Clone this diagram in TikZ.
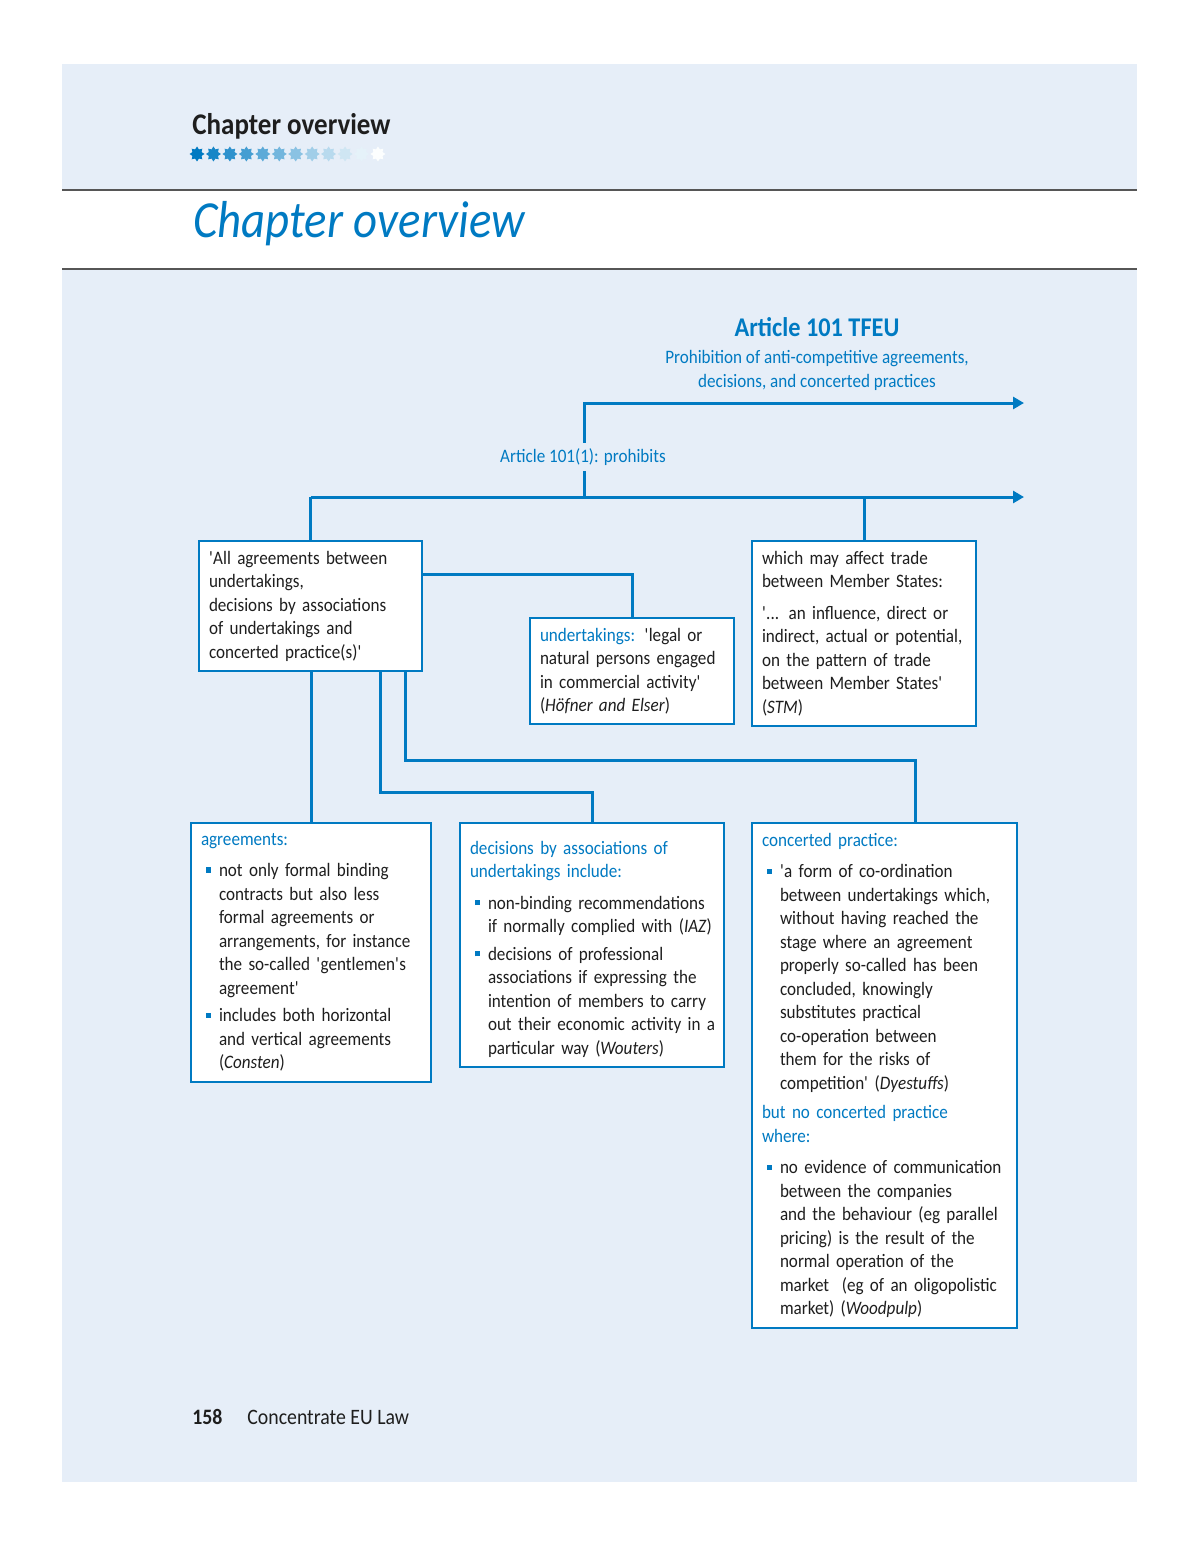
\documentclass[tikz,border=0pt]{standalone}
\usepackage{fontspec}
\setmainfont{Carlito}[FakeStretch=0.9]
\usepackage{tikz}
\usetikzlibrary{arrows.meta}
\usetikzlibrary{shapes.geometric}
\usetikzlibrary{positioning,calc}
\definecolor{cblue}{RGB}{0,122,194}
\definecolor{panel}{RGB}{230,238,248}
\definecolor{ink}{RGB}{30,30,30}
\newcommand{\nohyph}{\hyphenpenalty=10000\relax}
\newcommand{\boxfont}{\fontsize{9.5}{11.75}\selectfont\nohyph}
\tikzset{>=Triangle}
\tikzstyle{line} = [draw, 
line width=1.5pt, 
color=cblue]
\tikzstyle{arrowline} = [line, -{Triangle[length=5.5pt,width=6pt]}]
\tikzstyle{box} = [draw=cblue, line width=1pt, fill=white, anchor=north west,
inner sep=5pt, align=left, text=ink, font=\boxfont]
\tikzstyle{rule} = [draw=ink!75, line width=1pt]
\newcommand{\sq}{\textquotesingle}
\newcommand{\bitem}[1]{\par\vspace{4.75pt}\noindent%
\hbox to 9pt{\hspace{2.5pt}\textcolor{cblue}{\rule[2pt]{2.6pt}{2.6pt}}\hss}%
\parbox[t]{\dimexpr\hsize-5pt\relax}{\raggedright\nohyph #1}\par}
\newcommand{\bhead}[1]{{\color{cblue}#1}\par\vspace{-0.75pt}}

\begin{document}
\begin{tikzpicture}[x=0.5pt, y=-0.5pt]
    \useasboundingbox (0,0) rectangle (1200,1546);
    \fill[white] (0,0) rectangle (1200,1546);
    \fill[panel] (62,64) rectangle (1137,1482);
    \fill[white] (62,190) rectangle (1137,269);
    \path[rule] (62,190) -- (1137,190);
    \path[rule] (62,269) -- (1137,269);
    %% Header
    \node [anchor=base west, inner sep=0, text=ink, font=\bfseries\fontsize{15}{16}\selectfont] (chap) at (192,135) {Chapter overview};
    \foreach \i in {0,...,11} {
      \pgfmathsetmacro\shade{100-\i*9}
      \node [star, star points=8, star point ratio=1.5, minimum size=7.5pt, inner sep=0, fill=cblue!\shade!white] (star\i) at (197+\i*16.45,154) {};
    }
    \node [anchor=base west, inner sep=0, text=cblue, font=\itshape\fontsize{26}{30}\selectfont] (script) at (193,238) {Chapter overview};
    %% Titles
    \node [text=cblue, font=\bfseries\fontsize{13.5}{15}\selectfont] (art) at (817,327) {Article 101 TFEU};
    \node [text=cblue, align=center, font=\fontsize{9.5}{12}\selectfont] (prohib) at (817,370) {Prohibition of anti-competitive agreements,\\ decisions, and concerted practices};
    %% Boxes
    \node [box, text width=101.5pt] (all) at (198,540) {\sq All agreements between\\ undertakings,\\ decisions by associations\\ of undertakings and\\ concerted practice(s)\sq};
    \node [box, text width=92pt] (und) at (529,617) {{\color{cblue}undertakings:} \sq legal or\\ natural persons engaged\\ in commercial activity\sq\\ (\textit{Höfner and Elser})};
    \node [box, text width=102pt] (mem) at (751,540) {which may affect trade\\ between Member States:\\[4pt] \sq... an influence, direct or\\ indirect, actual or potential,\\ on the pattern of trade\\ between Member States\sq\\ (\textit{STM})};
    \node [box, text width=110pt] (agr) at (190,822) {\bhead{agreements:}%
      \bitem{not only formal binding\\ contracts but also less\\ formal agreements or\\ arrangements, for instance\\ the so-called \sq gentlemen\sq s\\ agreement\sq}%
      \bitem{includes both horizontal\\ and vertical agreements\\ (\textit{Consten})}};
    \node [box, text width=122pt] (dec) at (459,822) {\bhead{\rule{0pt}{10.5pt}decisions by associations of\\ undertakings include:}%
      \bitem{non-binding recommendations\\ if normally complied with (\textit{IAZ})}%
      \bitem{decisions of professional\\ associations if expressing the\\ intention of members to carry\\ out their economic activity in a\\ particular way (\textit{Wouters})}};
    \node [box, text width=122.5pt] (con) at (751,822) {\bhead{concerted practice:}%
      \bitem{\sq a form of co-ordination\\ between undertakings which,\\ without having reached the\\ stage where an agreement\\ properly so-called has been\\ concluded, knowingly\\ substitutes practical\\ co-operation between\\ them for the risks of\\ competition\sq\ (\textit{Dyestuffs})}\vspace{5.75pt}%
      \bhead{but no concerted practice\\ where:}%
      \bitem{no evidence of communication\\ between the companies\\ and the behaviour (eg parallel\\ pricing) is the result of the\\ normal operation of the\\ market\ \ (eg of an oligopolistic\\ market) (\textit{Woodpulp})}};
    %% Flows
    \coordinate (top) at (584,403);
    \coordinate (topend) at (1024,403);
    \coordinate (fork) at (584,497);
    \coordinate (mainend) at (1024,497);
    \coordinate (k1) at (380,792);
    \coordinate (k2) at (405,760);
    \coordinate (k2e) at (915,760);
    \path [arrowline] (fork) -- (top) -- (topend);
    \path [arrowline] (all.north |- fork) -- (mainend);
    \path [line] (all.north |- fork) -- (all.north);
    \path [line] (mem.north |- fork) -- (mem.north);
    \path [line] ([yshift=-17pt]all.north east) -| (und.north);
    \path [line] (all.south -| agr.north) -- (agr.north);
    \path [line] (all.south -| k1) -- (k1) -| (dec.north);
    \path [line] (all.south -| k2) -- (k2) -- (k2e) -- (k2e |- con.north);
    \node [fill=panel, text=cblue, inner sep=3pt, font=\fontsize{9.5}{12}\selectfont] (prohibits) at (583,457) {Article 101(1): prohibits};
    %% Footer
    \node [anchor=base west, inner sep=0, text=ink, font=\bfseries\fontsize{11}{12}\selectfont] (page) at (192,1424) {158};
    \node [anchor=base west, inner sep=0, text=ink, font=\fontsize{11}{12}\selectfont] (book) at (247,1424) {Concentrate EU Law};
  \end{tikzpicture}
\end{document}
